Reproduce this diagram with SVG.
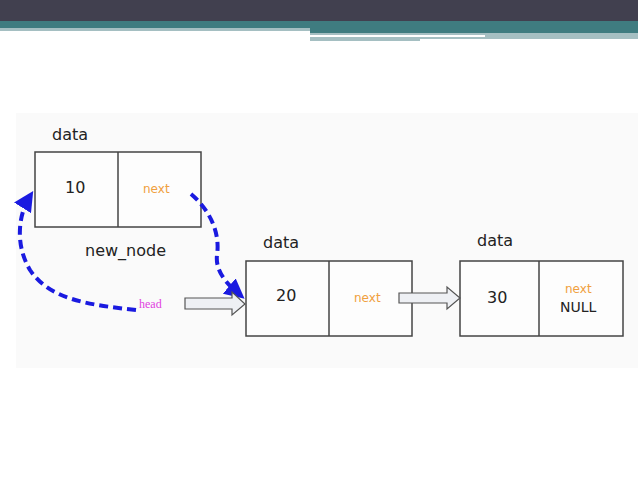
<svg xmlns="http://www.w3.org/2000/svg" width="638" height="478" viewBox="0 0 638 478">
<style>
.box{fill:#fdfdfd;stroke:#444;stroke-width:1.5}
.t{font-family:"DejaVu Sans",sans-serif;fill:#222}
.nx{font-family:"DejaVu Sans",sans-serif;fill:#f0a040;font-size:12px}
.dash{fill:none;stroke:#1a1ae0;stroke-width:4;stroke-dasharray:9,5}
.blk{fill:#eef0f4;stroke:#555;stroke-width:1.2}
</style>
<defs>
<marker id="ah" viewBox="0 0 10 10" refX="7" refY="5" markerWidth="5" markerHeight="5" orient="auto"><path d="M0,0 L10,5 L0,10 z" fill="#1a1ae0"/></marker>
</defs>
<rect width="638" height="478" fill="#fff"/>
<rect x="0" y="0" width="638" height="22" fill="#41404f"/>
<rect x="0" y="21" width="638" height="8" fill="#3f7c80"/>
<rect x="0" y="28" width="310" height="3" fill="#a5bfc2"/>
<rect x="310" y="28" width="328" height="5" fill="#3f7c80"/>
<rect x="310" y="33" width="328" height="8" fill="#a5bfc2"/>
<rect x="310" y="35" width="175" height="2" fill="#fff"/>
<rect x="420" y="39" width="218" height="4" fill="#fff"/>
<rect x="16" y="113" width="622" height="255" fill="#fafafa"/>
<g id="node1">
<text class="t" x="52" y="140" font-size="16">data</text>
<rect class="box" x="35" y="152" width="166" height="75"/>
<line x1="118" y1="152" x2="118" y2="227" stroke="#444" stroke-width="1.5"/>
<text class="t" x="65" y="193" font-size="16">10</text>
<text class="nx" x="143" y="193">next</text>
<text class="t" x="85" y="256" font-size="16">new_node</text>
</g>
<g id="node2">
<text class="t" x="263" y="248" font-size="16">data</text>
<rect class="box" x="246" y="261" width="166" height="75"/>
<line x1="329" y1="261" x2="329" y2="336" stroke="#444" stroke-width="1.5"/>
<text class="t" x="276" y="301" font-size="16">20</text>
<text class="nx" x="354" y="302">next</text>
</g>
<g id="node3">
<text class="t" x="477" y="246" font-size="16">data</text>
<rect class="box" x="460" y="261" width="163" height="75"/>
<line x1="539" y1="261" x2="539" y2="336" stroke="#444" stroke-width="1.5"/>
<text class="t" x="487" y="303" font-size="16">30</text>
<text class="nx" x="565" y="293">next</text>
<text class="t" x="560" y="312" font-size="14">NULL</text>
</g>
<g id="head">
<text x="139" y="308" font-family="Liberation Serif,serif" font-size="12" fill="#e040e0">head</text>
</g>
<g id="connectors">
<path class="dash" d="M191,194 C212,212 220,235 217,255 C215,272 228,285 240,295" marker-end="url(#ah)"/>
<path class="dash" d="M136,310 C90,305 50,300 30,270 C15,245 18,215 30,196" marker-end="url(#ah)"/>
<path class="blk" d="M185,298 L232,298 L232,292 L245,304 L232,315 L232,309 L185,309 z"/>
<path class="blk" d="M399,293 L447,293 L447,287 L460,298 L447,309 L447,303 L399,303 z"/>
</g>
</svg>
